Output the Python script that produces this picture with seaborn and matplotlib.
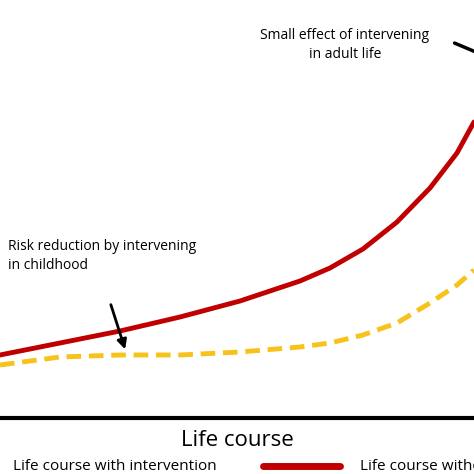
import matplotlib
matplotlib.use("Agg")
import matplotlib.pyplot as plt
import seaborn as sns
import pandas as pd

sns.set_theme(style="white")
plt.rcParams['font.family'] = ['Open Sans', 'DejaVu Sans']
plt.rcParams['text.color'] = 'black'

x_px = [0, 60, 120, 180, 240, 300, 330, 363, 397, 430, 457, 474]
red_py = [355, 343, 331, 317, 301, 281, 268, 249, 222, 188, 153, 122]
yel_py = [365, 357, 355, 355, 352, 347, 343, 335, 323, 303, 285, 270]

H = 418.0
x = [v / 474 * 100 for v in x_px]
red = [(H - v) / H * 100 for v in red_py]
yel = [(H - v) / H * 100 for v in yel_py]
df = pd.DataFrame({"x": x + x, "y": red + yel,
                   "s": ["Life course without intervention"] * len(x) + ["Life course with intervention"] * len(x)})

fig = plt.figure(figsize=(4.74, 4.74), dpi=100)
ax = fig.add_axes([0, 56 / 474, 1, 418 / 474])
sns.lineplot(data=df[df.s.str.contains("without")], x="x", y="y", color="#c00000", lw=3.5, ax=ax, legend=False)
sns.lineplot(data=df[~df.s.str.contains("without")], x="x", y="y", color="#f7c21a", lw=3.5, ls=(0, (3, 1.6)), ax=ax, legend=False)
ax.set_xlim(0, 100)
ax.set_ylim(0, 100)
for s in ["top", "right", "left"]:
    ax.spines[s].set_visible(False)
ax.spines["bottom"].set_linewidth(3)
ax.spines["bottom"].set_color("black")
ax.set_xticks([]); ax.set_yticks([])
ax.set_xlabel(""); ax.set_ylabel("")

def P(px, py):
    return (px / 474 * 100, (H - py) / H * 100)

ax.text(*P(345, 45), "Small effect of intervening\nin adult life", ha="center", va="center", fontsize=10, linespacing=1.3)
ax.annotate("", xy=P(490, 58), xytext=P(452, 42), annotation_clip=False,
            arrowprops=dict(arrowstyle="-", lw=2.5, color="black"))
ax.text(*P(8, 256), "Risk reduction by intervening\nin childhood", ha="left", va="center", fontsize=10, linespacing=1.4)
ax.annotate("", xy=P(126, 352), xytext=P(110, 302),
            arrowprops=dict(arrowstyle="-|>", lw=2, color="black", mutation_scale=14))

fig.text(0.5, 1 - 441 / 474, "Life course", ha="center", va="center", fontsize=16)
fig.text(115 / 474, 1 - 466 / 474, "Life course with intervention", ha="center", va="center", fontsize=11)
fig.add_artist(plt.Line2D([263 / 474, 340 / 474], [1 - 466 / 474] * 2, color="#c00000", lw=5, transform=fig.transFigure))
fig.text(360 / 474, 1 - 466 / 474, "Life course without intervention", ha="left", va="center", fontsize=11)

fig.savefig("out.png", dpi=100)
